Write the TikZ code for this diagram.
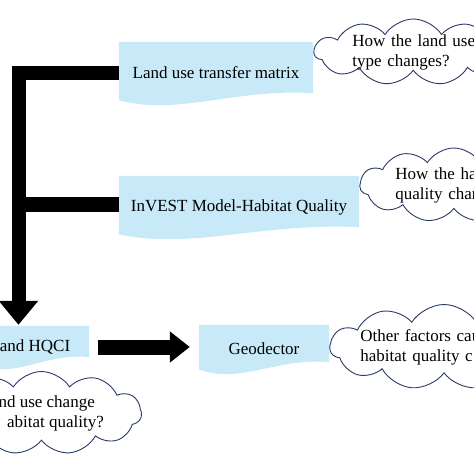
\documentclass[tikz,border=0pt]{standalone}
\usepackage{fontspec}
\setmainfont{Liberation Serif}
\usetikzlibrary{arrows.meta,positioning,shapes.symbols,calc,backgrounds}
\definecolor{boxblue}{HTML}{C7E9F8}
\definecolor{cloudline}{HTML}{2B3A67}

\begin{document}
\begin{tikzpicture}[x=1pt, y=-1pt,
  box/.style={minimum height=62pt, inner sep=0pt, font=\fontsize{17}{20}\selectfont},
  thought/.style={cloud, cloud puffs=11, cloud puff arc=115, cloud ignores aspect,
                  draw=cloudline, fill=white, line width=0.9pt, inner sep=0pt},
  qtext/.style={inner sep=0pt, font=\fontsize{17}{20}\selectfont},
  bar/.style={line width=14pt, line join=miter},
  bigarr/.style={bar, -{Triangle[length=24pt,width=38pt]}}
]
  \useasboundingbox (0,0) rectangle (474,474);
  \clip (0,0) rectangle (474,474);

  \node[box, minimum width=194pt] (ltm) at (216,73) {Land use transfer matrix};
  \node[box, minimum width=240pt] (inv) at (239,207) {InVEST Model-Habitat Quality};
  \node[box, minimum width=108pt, minimum height=42pt] (hq) at (35,347) {and HQCI};
  \node[box, minimum width=130pt, minimum height=48pt] (geo) at (264,349) {Geodector};

  % question clouds
  \node[thought, minimum width=198pt, minimum height=66pt, right=0pt of ltm, yshift=21pt] (q1) {};
  \node[qtext, text width=135pt, align=left, right=39pt of q1.west] (q1t) {How the land use\\type changes?};
  \node[thought, minimum width=188pt, minimum height=74pt, right=0pt of inv, yshift=22pt] (q2) {};
  \node[qtext, text width=116pt, align=left, right=36pt of q2.west] (q2t) {How the ha\\quality chan};
  \node[thought, minimum width=228pt, minimum height=85pt, right=0pt of geo, yshift=2pt] (q4) {};
  \node[qtext, text width=166pt, align=left, right=31pt of q4.west] (q4t) {Other factors cau\\habitat quality c};
  \node[thought, minimum width=200pt, minimum height=83pt, anchor=east] (q3) at (142,413) {};
  \node[qtext, align=right, left=38pt of q3.east] (q3t) {nd use change\hspace*{9pt}\\abitat quality?};

  % wavy blue boxes
  \begin{scope}[on background layer]
    \foreach \b in {ltm,inv,hq,geo}
      \fill[boxblue] (\b.north west) -- (\b.north east) -- ($(\b.south east)+(0,-11)$)
        .. controls ($(\b.south west)!0.6!(\b.south east)+(0,-16)$)
        and ($(\b.south west)!0.3!(\b.south east)+(0,12)$) .. ($(\b.south west)+(0,-4)$) -- cycle;
  \end{scope}

  % thick black connectors
  \coordinate (split) at (18.5,73);
  \draw[bigarr] (ltm.west) -| ([yshift=1pt]hq.north -| split);
  \draw[bar, line width=15pt] ([yshift=3pt]inv.west) -- ([yshift=3pt]inv.west -| split);
  \draw[bar, line width=15pt, -{Triangle[length=20pt,width=30pt]}, shorten <=9pt, shorten >=9pt]
    (hq.east) -- (hq.east -| geo.west);
\end{tikzpicture}
\end{document}
